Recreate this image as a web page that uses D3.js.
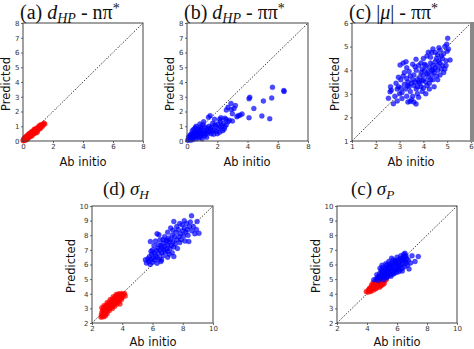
<html>
  <head>
    <meta charset='utf-8'>
    <script src='https://d3js.org/d3.v7.min.js'></script>
    <style>
      body { margin: 0; background: #fff; }
      .tick text { font-family: 'DejaVu Sans', sans-serif; font-size: 7px; fill: #333; }
      .lab { font-family: 'DejaVu Sans', sans-serif; font-size: 11.5px; fill: #111; }
      .ttl { font-family: 'Liberation Serif', 'Times New Roman', serif; fill: #111; }
    </style>
  </head>
  <body>
    <div id='chart'></div>
    <script>
        // tick labels
        const abTicksX = [0, 2, 4, 6, 8];
        const abTicksY = [0, 1, 2, 3, 4, 5, 6, 7, 8];
        const cTicks = [1, 2, 3, 4, 5, 6];
        const deTicksX = [2, 4, 6, 8, 10];
        const deTicksY = [2, 3, 4, 5, 6, 7, 8, 9, 10];

        // (a) d_HP n-pi*  [ab initio, predicted]
        const aRed = [[0.05,0.02],[0.1,0.08],[0.15,0.05],[0.2,0.15],[0.1,0.2],[0.25,0.1],[0.3,0.25],[0.35,0.2],[0.2,0.3],[0.4,0.35],
          [0.45,0.3],[0.5,0.4],[0.3,0.4],[0.55,0.45],[0.6,0.5],[0.65,0.45],[0.5,0.55],[0.7,0.6],[0.75,0.55],[0.8,0.65],
          [0.6,0.65],[0.85,0.7],[0.9,0.75],[0.95,0.7],[0.8,0.8],[1.0,0.85],[1.05,0.8],[1.1,0.9],[1.0,0.95],[1.15,1.0],
          [1.2,0.95],[1.25,1.05],[1.3,1.1],[1.35,1.15],[1.4,1.2],[1.3,1.0],[1.2,1.1],[0.9,0.85],[0.7,0.7],[0.4,0.5],
          [0.15,0.25],[0.05,0.15],[0.25,0.3],[0.35,0.35],[0.55,0.6],[0.45,0.5],[0.65,0.6],[0.75,0.8],[1.1,1.05],[0.95,0.6],
          [0.85,0.55],[0.6,0.35],[0.0,0.05],[0.12,0.12],[1.45,1.15],[1.15,0.85],[0.3,0.15],[0.7,0.5],[0.5,0.3]];

        // (b) d_HP pi-pi*
        const bBlue = [[5.65,3.64],[6.4,3.42],[6.42,3.36],[4.15,2.96],[4.1,2.86],[5.6,2.92],[5.05,2.71],[4.42,2.21],[4.1,1.58],[4.95,1.7],
          [5.47,1.51],[3.64,1.83],[3.5,1.75],[3.38,1.72],[3.3,1.65],[2.91,2.55],[2.71,2.28],[3.11,2.21],[3.2,2.4],[2.93,2.14],
          [2.6,2.1],[3.0,1.85],[2.24,1.58],[2.16,1.47],[2.58,1.47],[2.71,1.31],[1.53,1.72],[1.42,1.61],[1.82,1.47],[3.0,1.35],
          [2.4,1.2],[2.2,1.3],[2.3,1.05],[2.05,1.15],[1.9,1.0],[2.5,0.95],[1.7,1.2],[1.6,0.95],[2.1,0.85],[1.8,0.75],
          [2.35,0.7],[1.4,0.55],[2.0,0.5],[1.15,0.35],[0.95,0.45],[1.2,0.65],[1.3,0.85],[1.0,0.7],[0.8,0.55],[0.9,0.95],
          [1.05,1.1],[0.6,1.0],[0.85,1.15],[1.1,1.3],[0.7,0.8],[0.5,0.6],[0.4,0.45],[0.3,0.3],[0.2,0.15],[0.1,0.1],
          [0.15,0.3],[0.25,0.2],[0.35,0.15],[0.45,0.25],[0.55,0.35],[0.65,0.3],[0.75,0.4],[0.6,0.55],[0.5,0.45],[0.3,0.5],
          [0.2,0.4],[0.05,0.05],[0.1,0.25],[0.4,0.1],[0.6,0.15],[0.8,0.2],[1.0,0.15],[0.9,0.3],[0.7,0.6],[1.1,0.55],
          [1.25,0.45],[1.35,0.75],[1.5,0.65],[1.6,0.5],[1.7,0.7],[1.45,1.0],[1.55,0.85],[1.85,1.1],[1.95,0.65],[2.2,0.95],
          [2.45,0.8],[2.6,1.1],[2.15,0.6],[1.3,0.25],[0.95,0.85],[0.35,0.7],[0.25,0.05],[0.45,0.8],[0.55,0.9],[1.2,0.95],
          [1.75,0.45],[2.8,1.4],[2.5,1.55],[1.0,0.5],[0.85,0.75]];

        // (c) |mu| pi-pi*
        const cBlue = [[2.62,3.3],[2.65,3.15],[2.6,3.09],[2.74,2.58],[2.53,2.81],[2.8,2.9],[2.9,3.2],[2.95,3.3],[3.02,4.22],[3.27,4.36],
          [3.69,4.46],[3.44,2.67],[3.69,2.57],[3.5,2.75],[3.6,2.65],[3.3,2.9],[3.1,3.05],[3.2,3.4],[3.05,3.6],[3.15,3.75],
          [3.3,3.65],[3.35,3.5],[3.4,3.3],[3.45,3.1],[3.5,3.45],[3.55,3.6],[3.6,3.8],[3.6,3.35],[3.7,3.2],[3.75,3.0],
          [3.8,3.5],[3.85,3.7],[3.9,3.9],[3.7,4.0],[3.65,4.15],[3.4,3.95],[3.3,4.1],[3.25,3.2],[3.0,3.0],[2.85,3.45],
          [3.9,3.3],[3.95,3.1],[4.0,3.6],[4.0,3.8],[4.05,4.0],[4.1,4.2],[4.1,3.5],[4.15,3.35],[4.2,3.7],[4.2,3.9],
          [4.25,4.1],[4.3,4.3],[4.3,3.6],[4.35,3.8],[4.4,4.0],[4.4,4.2],[4.45,3.9],[4.5,4.1],[4.5,4.35],[4.55,4.5],
          [4.6,4.2],[4.6,4.0],[4.65,4.4],[4.7,4.3],[4.75,4.6],[4.8,4.5],[4.8,4.2],[4.85,3.9],[4.9,4.05],[4.95,4.4],
          [5.0,4.8],[5.02,5.35],[4.98,5.1],[5.05,4.9],[5.12,4.43],[4.9,5.0],[4.7,4.85],[4.5,4.75],[4.35,4.75],[4.21,4.76],
          [4.15,4.6],[4.0,4.5],[3.9,4.3],[3.8,4.2],[3.85,3.45],[4.0,3.25],[4.1,3.0],[3.8,2.85],[3.55,2.9],[3.35,2.65],
          [3.1,2.8],[2.9,2.7],[3.45,3.75],[3.75,3.6],[3.95,3.55],[4.25,3.45],[4.45,3.3],[4.6,3.6],[4.7,3.8],[4.75,4.05],
          [4.55,3.75],[4.05,4.25],[3.55,4.25],[3.15,4.3],[2.95,3.7],[3.2,3.9],[4.3,4.55],[4.6,4.65],[4.85,4.7],[4.4,3.6],
          [3.65,3.5],[3.35,3.35],[4.15,3.85],[4.35,4.0],[4.95,4.2],[4.65,4.95],[4.4,4.9],[3.05,3.25],[3.75,3.3],[4.25,3.2],
          [3.95,4.05]];

        // (d) sigma_H
        const dRed = [[2.6,2.4],[2.62,2.55],[2.65,2.72],[2.7,2.5],[2.7,2.85],[2.76,2.6],[2.74,2.97],[2.8,2.7],[2.81,3.02],[2.85,2.8],
          [2.86,3.12],[2.9,2.64],[2.92,2.9],[2.95,3.05],[2.97,3.22],[3.0,2.8],[3.02,3.0],[3.05,3.15],[3.07,3.32],[3.1,2.95],
          [3.12,3.1],[3.15,3.26],[3.16,3.42],[3.2,3.0],[3.22,3.2],[3.25,3.35],[3.27,3.52],[3.3,3.1],[3.31,3.3],[3.35,3.45],
          [3.36,3.62],[3.4,3.2],[3.42,3.4],[3.45,3.55],[3.47,3.72],[3.5,3.3],[3.52,3.5],[3.55,3.66],[3.57,3.82],[3.6,3.4],
          [3.62,3.6],[3.65,3.75],[3.66,3.92],[3.7,3.5],[3.72,3.7],[3.75,3.85],[3.77,4.0],[3.8,3.6],[3.82,3.8],[3.85,3.95],
          [3.9,3.7],[3.92,3.9],[3.95,4.02],[4.0,3.75],[4.05,3.9],[4.1,3.96],[4.15,4.02],[2.68,2.45],[2.78,2.42],[2.9,2.5],
          [3.0,2.65],[3.15,2.85],[3.35,3.0],[3.5,3.15],[3.65,3.3],[3.8,3.45],[3.95,3.6],[2.65,3.05],[2.8,3.2],[3.0,3.4],
          [3.2,3.6],[3.4,3.8],[3.6,3.95],[3.85,3.3],[4.2,3.85]];
        const dBlue = [[5.53,6.32],[5.6,6.1],[5.7,6.4],[5.75,6.2],[5.8,6.55],[5.85,6.0],[5.9,6.35],[5.95,6.7],[6.0,6.15],[6.05,6.45],
          [6.1,6.8],[6.15,6.3],[6.2,6.6],[6.25,6.95],[6.3,6.09],[6.3,6.5],[6.35,7.1],[6.4,6.75],[6.45,6.4],[6.5,7.0],
          [6.55,7.3],[6.6,6.8],[6.65,7.15],[6.7,6.6],[6.7,7.45],[6.75,7.0],[6.8,7.25],[6.85,6.85],[6.9,7.6],[6.95,7.1],
          [7.0,7.35],[7.0,6.9],[7.05,7.8],[7.1,7.5],[7.15,7.1],[7.2,7.7],[7.25,7.3],[7.3,8.0],[7.35,7.55],[7.41,6.54],
          [7.4,7.2],[7.45,7.9],[7.5,7.4],[7.55,8.2],[7.6,7.7],[7.65,7.1],[7.7,8.4],[7.75,7.9],[7.8,7.5],[7.85,8.1],
          [7.9,7.7],[7.96,8.71],[8.0,8.3],[8.05,7.95],[8.1,8.5],[8.15,7.6],[8.2,8.2],[8.25,8.8],[8.3,8.4],[8.35,8.0],
          [8.4,7.57],[8.45,8.6],[8.5,8.9],[8.58,9.33],[8.6,8.3],[8.7,8.6],[8.8,8.1],[8.9,8.4],[8.95,8.94],[9.07,8.14],
          [5.86,7.57],[6.42,8.03],[6.3,8.1],[6.1,7.3],[6.0,7.0],[6.5,7.7],[6.8,7.9],[7.0,8.2],[7.41,8.94],[7.2,8.5],
          [7.6,8.6],[6.6,6.3],[7.0,6.5],[7.3,6.8],[6.2,7.6],[6.55,6.2],[7.8,8.8],[8.1,9.0],[7.35,8.35],[6.95,7.65],
          [6.4,7.35],[5.9,6.9],[6.7,7.7],[7.1,6.7]];

        // (e) sigma_P
        const eRed = [[3.95,4.15],[4.05,4.1],[4.1,4.25],[4.15,4.35],[4.2,4.2],[4.25,4.3],[4.3,4.45],[4.35,4.3],[4.4,4.4],[4.4,4.55],
          [4.45,4.25],[4.5,4.5],[4.5,4.65],[4.55,4.4],[4.6,4.55],[4.6,4.7],[4.65,4.45],[4.7,4.6],[4.7,4.8],[4.75,4.5],
          [4.8,4.65],[4.85,4.75],[4.9,4.55],[4.95,4.7],[5.0,4.85],[5.05,4.65],[5.1,4.8],[5.2,4.9],[5.3,5.0],[4.45,4.65],
          [4.3,4.6],[4.25,4.15],[4.55,4.75],[4.8,4.9],[4.65,4.95],[4.9,5.1],[4.75,5.15],[5.15,4.7],[4.35,4.5],[4.6,4.35],
          [4.2,4.4],[4.4,4.75],[5.0,4.6],[4.85,4.45],[4.15,4.2]];
        const eBlue = [[4.45,4.95],[4.6,5.0],[4.7,5.1],[4.75,4.9],[4.8,5.2],[4.85,5.4],[4.87,5.75],[4.9,5.05],[4.95,5.3],[5.0,5.5],
          [5.0,5.15],[5.05,5.8],[5.1,5.35],[5.15,5.6],[5.2,5.1],[5.2,5.45],[5.25,5.75],[5.3,5.3],[5.3,5.95],[5.35,5.55],
          [5.4,5.2],[5.4,5.8],[5.45,5.45],[5.5,6.05],[5.5,5.65],[5.55,5.3],[5.6,5.9],[5.64,6.43],[5.65,5.5],[5.7,6.1],
          [5.7,5.75],[5.75,5.35],[5.8,6.0],[5.85,5.6],[5.9,6.25],[5.9,5.8],[5.95,5.45],[6.0,6.0],[6.0,5.65],[6.05,6.3],
          [6.1,5.85],[6.15,6.15],[6.2,5.6],[6.2,6.4],[6.25,5.95],[6.3,6.25],[6.35,5.75],[6.4,6.5],[6.4,6.05],[6.45,6.3],
          [6.5,5.85],[6.53,6.77],[6.55,6.55],[6.6,6.1],[6.65,6.4],[6.7,5.95],[6.8,5.7],[6.9,6.1],[7.0,6.6],[7.2,6.2],
          [7.42,6.54],[5.1,4.95],[5.3,5.1],[5.6,5.2],[5.8,5.4],[6.1,5.5],[6.35,5.55],[5.25,6.05],[5.45,6.2],[5.0,5.95],
          [5.75,6.3],[6.0,6.5],[6.25,6.6],[6.45,6.7],[5.55,5.95],[5.85,6.15],[5.15,5.25],[5.35,5.7],[5.65,5.85],[5.95,6.1],
          [6.15,6.0],[6.35,6.4],[6.6,6.6],[4.95,5.6],[4.65,5.3],[5.4,5.4],[5.7,5.55],[6.05,5.75],[6.55,6.2],[6.75,6.3]];

        const W = 474, H = 349;
        const svg = d3.select('#chart').append('svg')
            .attr('width', W).attr('height', H);

        const panels = [
          { box: [23, 23, 143, 141], dom: [0, 8], tx: abTicksX, ty: abTicksY,
            sets: [[aRed, '#ff0000']], title: ['(a) ', 'd', 'HP', ' - nπ', '*'], tPos: [20, 18.5], tSize: 20,
            yLab: [10, 84], xLab: [83, 166] },
          { box: [187, 23, 308, 141], dom: [0, 8], tx: abTicksX, ty: abTicksY,
            sets: [[bBlue, '#0000ff']], title: ['(b) ', 'd', 'HP', ' - ππ', '*'], tPos: [184, 18.5], tSize: 20,
            yLab: [174, 84], xLab: [247, 166] },
          { box: [352, 23, 471, 141], dom: [1, 6], tx: cTicks, ty: cTicks,
            sets: [[cBlue, '#0000ff']], title: ['(c) |', 'μ', '', '| - ππ', '*'], tPos: [349, 18.5], tSize: 20,
            yLab: [339, 84], xLab: [411, 166] },
          { box: [92, 206, 213, 323], dom: [2, 10], tx: deTicksX, ty: deTicksY,
            sets: [[dRed, '#ff0000'], [dBlue, '#0000ff']], title: ['(d) ', 'σ', 'H', '', ''], tPos: [103, 195], tSize: 19,
            yLab: [75, 266], xLab: [153, 346] },
          { box: [337, 206, 457, 323], dom: [2, 10], tx: deTicksX, ty: deTicksY,
            sets: [[eRed, '#ff0000'], [eBlue, '#0000ff']], title: ['(c) ', 'σ', 'P', '', ''], tPos: [351, 195], tSize: 19,
            yLab: [320, 266], xLab: [397, 346] }
        ];

        panels.forEach(function(p) {
          const [x0, y0, x1, y1] = p.box;
          const x = d3.scaleLinear().domain(p.dom).range([x0, x1]);
          const y = d3.scaleLinear().domain(p.dom).range([y1, y0]);
          const g = svg.append('g');

          // dotted identity line
          g.append('line')
            .attr('x1', x(p.dom[0])).attr('y1', y(p.dom[0]))
            .attr('x2', x(p.dom[1])).attr('y2', y(p.dom[1]))
            .attr('stroke', '#000').attr('stroke-width', 1)
            .attr('stroke-dasharray', '1,1.6');

          p.sets.forEach(function(s) {
            g.append('g').selectAll('circle').data(s[0]).join('circle')
              .attr('cx', d => x(d[0])).attr('cy', d => y(d[1]))
              .attr('r', 2.5)
              .attr('fill', s[1]).attr('fill-opacity', 0.7)
              .attr('stroke', s[1]).attr('stroke-opacity', 0.5).attr('stroke-width', 0.5);
          });

          const ax = g.append('g').attr('transform', 'translate(0,' + y1 + ')')
            .call(d3.axisBottom(x).tickValues(p.tx).tickSize(2).tickPadding(1.5).tickFormat(d3.format('d')));
          const ay = g.append('g').attr('transform', 'translate(' + x0 + ',0)')
            .call(d3.axisLeft(y).tickValues(p.ty).tickSize(2).tickPadding(1.5).tickFormat(d3.format('d')));
          [ax, ay].forEach(a => {
            a.select('.domain').remove();
            a.selectAll('.tick line').attr('stroke', '#444').attr('stroke-width', 0.8);
          });

          g.append('rect').attr('x', x0).attr('y', y0)
            .attr('width', x1 - x0).attr('height', y1 - y0)
            .attr('fill', 'none').attr('stroke', '#444').attr('stroke-width', 1);

          // title
          const t = g.append('text').attr('class', 'ttl')
            .attr('x', p.tPos[0]).attr('y', p.tPos[1]).attr('font-size', p.tSize);
          t.append('tspan').text(p.title[0]);
          t.append('tspan').attr('font-style', 'italic').text(p.title[1]);
          if (p.title[2]) {
            t.append('tspan').attr('font-style', 'italic').attr('font-size', p.tSize * 0.7)
              .attr('dy', 4).text(p.title[2]);
          }
          if (p.title[3]) {
            t.append('tspan').attr('dy', p.title[2] ? -4 : 0).text(p.title[3]);
            t.append('tspan').attr('font-size', 14).attr('dy', -6).text(p.title[4]);
          }

          g.append('text').attr('class', 'lab')
            .attr('transform', 'translate(' + p.yLab[0] + ',' + p.yLab[1] + ') rotate(-90)')
            .attr('text-anchor', 'middle').text('Predicted');
          g.append('text').attr('class', 'lab')
            .attr('x', p.xLab[0]).attr('y', p.xLab[1])
            .attr('text-anchor', 'middle').text('Ab initio');
        });

        // thick grey edge at the right border of panel (c)
        svg.append('rect').attr('x', 470).attr('y', 22).attr('width', 4).attr('height', 120)
          .attr('fill', '#888');
    </script>
  </body>
</html>
